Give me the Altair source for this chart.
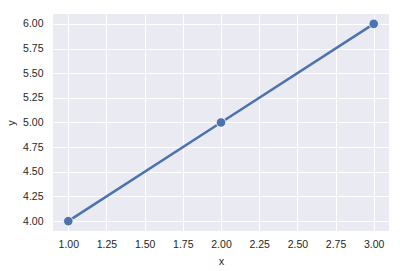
import altair as alt
import pandas as pd

xs = [1, 2, 3]
ys = [4, 5, 6]
x_ticks = [1.0, 1.25, 1.5, 1.75, 2.0, 2.25, 2.5, 2.75, 3.0]
y_ticks = [4.0, 4.25, 4.5, 4.75, 5.0, 5.25, 5.5, 5.75, 6.0]

df = pd.DataFrame({"x": xs, "y": ys})
color = "#4C72B0"
font = "Liberation Sans"

xenc = alt.X("x:Q", scale=alt.Scale(domain=[0.9, 3.1], nice=False, zero=False),
             axis=alt.Axis(values=x_ticks, format=".2f", title="x", grid=True,
                           domain=False, ticks=False, labelPadding=8, titlePadding=6,
                           labelFontSize=10.5, titleFontSize=11, labelFont=font, titleFont=font,
                           labelColor="#262626", titleColor="#262626", titleFontWeight="normal",
                           gridColor="white", gridWidth=1, labelFlush=False))
yenc = alt.Y("y:Q", scale=alt.Scale(domain=[3.9, 6.1], nice=False, zero=False),
             axis=alt.Axis(values=y_ticks, format=".2f", title="y", grid=True,
                           domain=False, ticks=False, labelPadding=10, titlePadding=6,
                           labelFontSize=10.5, titleFontSize=11, labelFont=font, titleFont=font,
                           labelColor="#262626", titleColor="#262626", titleFontWeight="normal",
                           gridColor="white", gridWidth=1, labelFlush=False))

base = alt.Chart(df).encode(x=xenc, y=yenc)
line = base.mark_line(color=color, strokeWidth=2.5)
pts = base.mark_point(filled=True, color=color, size=90, opacity=1,
                      stroke="white", strokeWidth=0.8)

chart = (line + pts).properties(
    width=336, height=217,
    autosize=alt.AutoSizeParams(type="none"),
    padding={"left": 53, "top": 14, "right": 11, "bottom": 40},
    background="white",
).configure_view(fill="#EAEAF2", stroke=None)

chart.save("out.html", embed_options={"renderer": "svg", "actions": False})
